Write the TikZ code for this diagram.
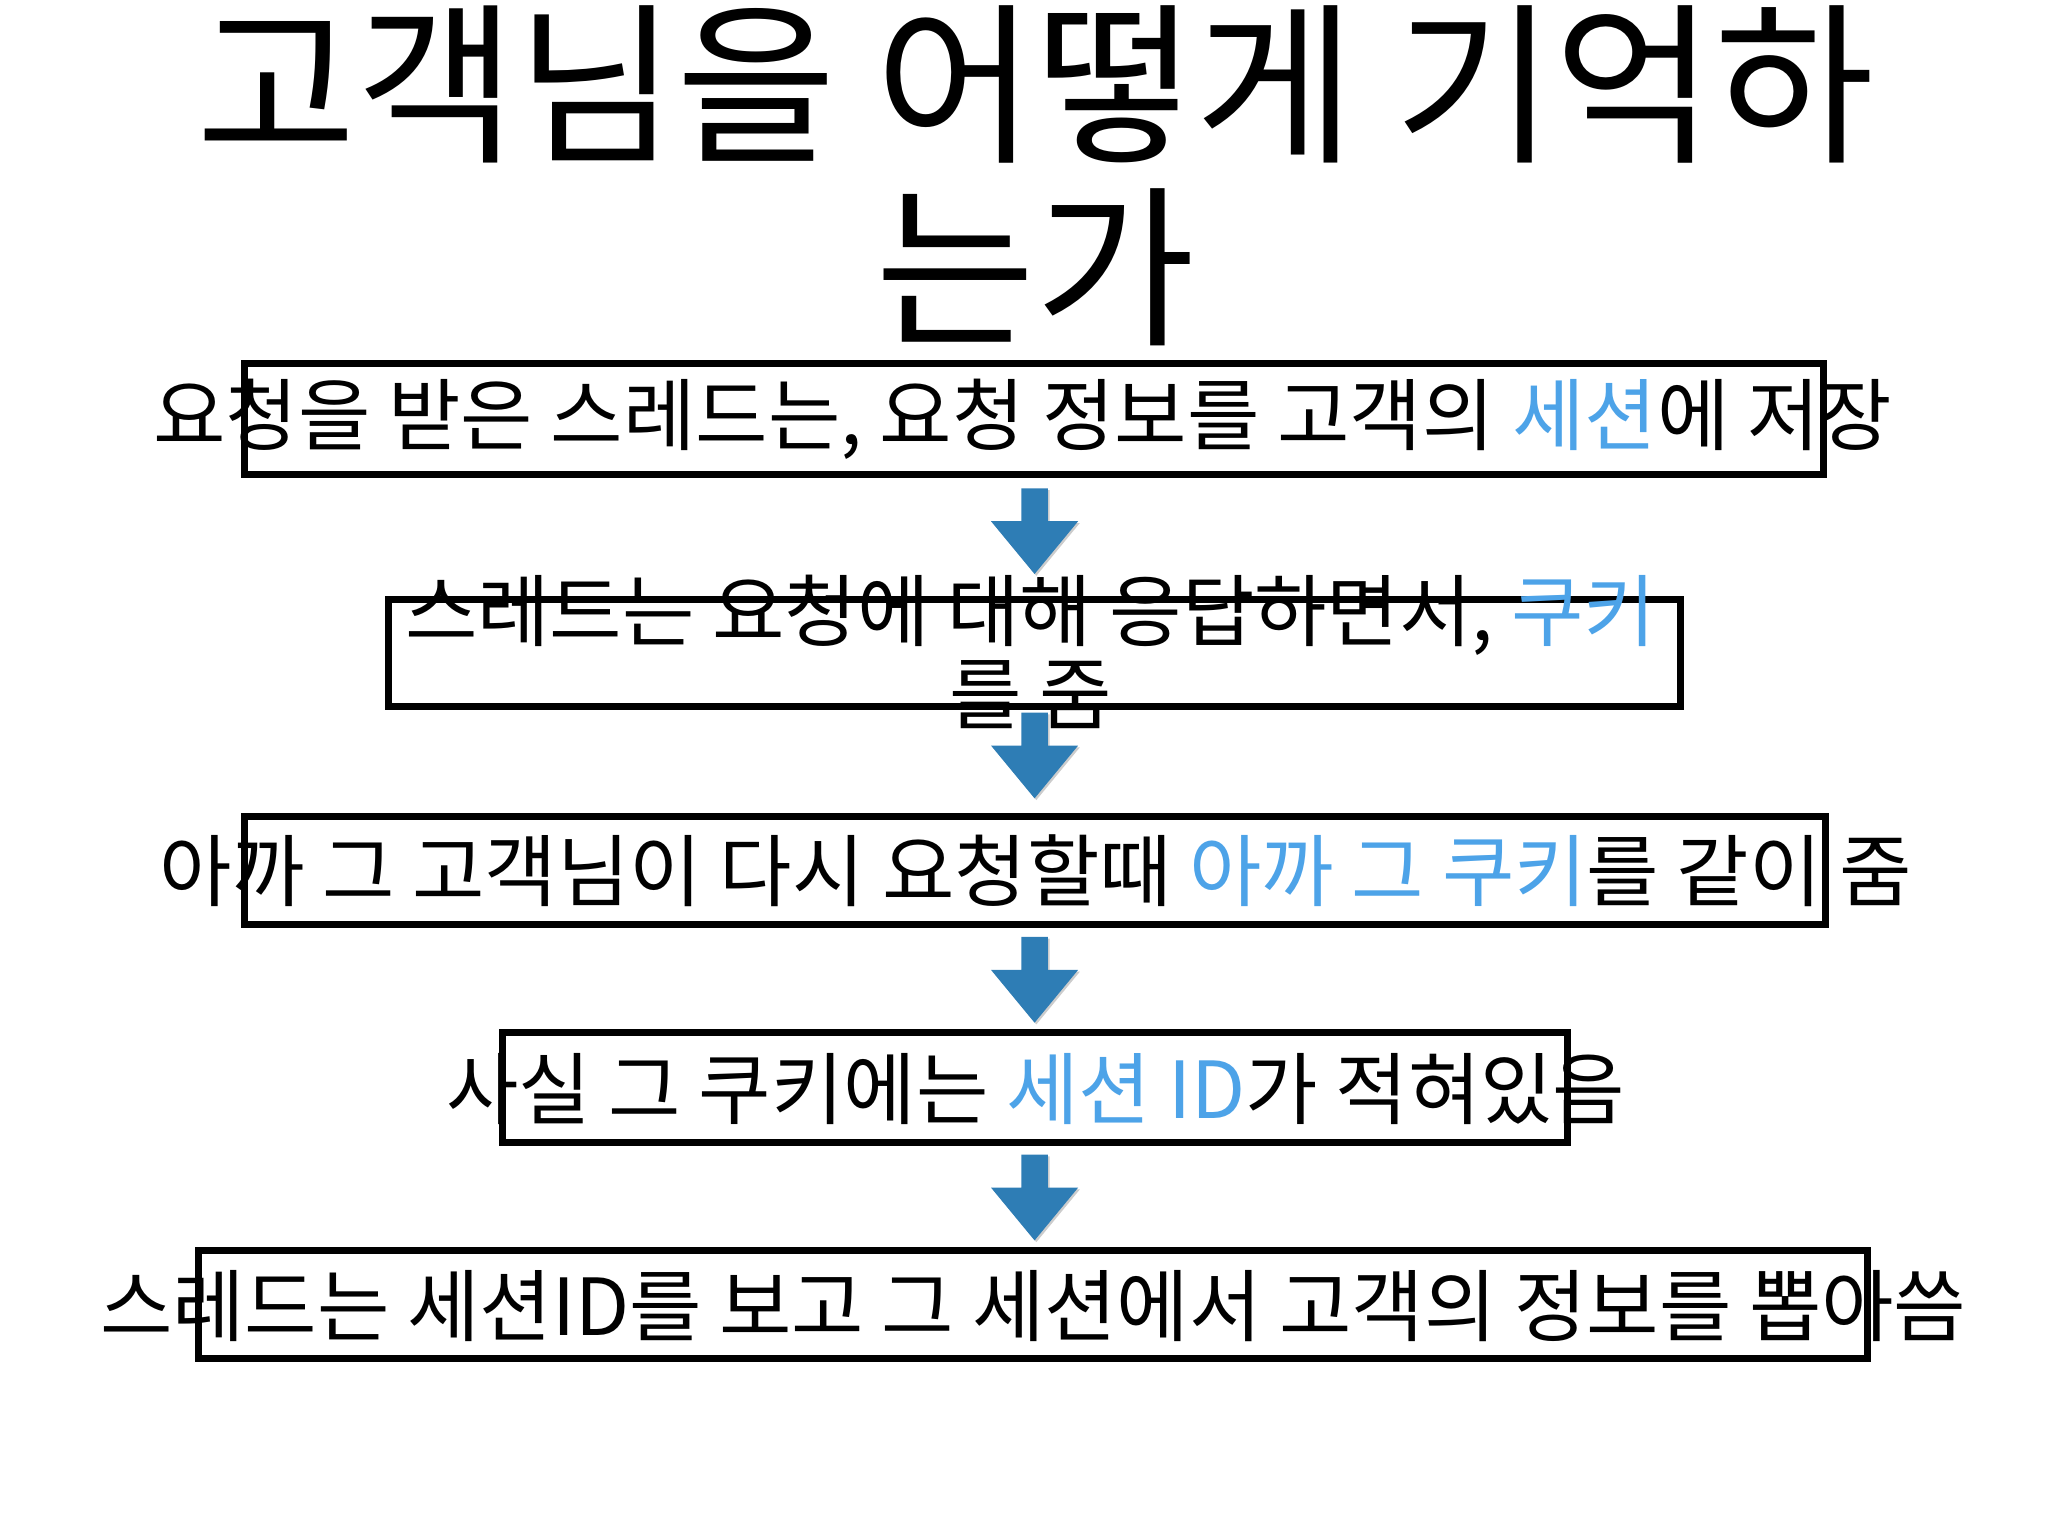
\documentclass[tikz,border=0pt]{standalone}
\usepackage{fontspec}
\setmainfont{Noto Sans CJK KR}
\usetikzlibrary{shadows}
\definecolor{kblue}{HTML}{4DA3E8}
\definecolor{abl}{HTML}{2E7DB5}
\tikzset{
 box/.style={draw=black,line width=2pt,inner sep=0pt},
 txt/.style={font=\fontsize{22.4}{25}\selectfont,inner sep=0pt,align=center},
 arr/.style={fill=abl,draw=none,drop shadow={shadow xshift=0.5pt,shadow yshift=-0.5pt,opacity=0.4}}
}
\begin{document}
\begin{tikzpicture}[x=0.013196cm,y=-0.013196cm]
\useasboundingbox (0,0) rectangle (1552,1164);
\node[inner sep=0pt,align=center,font=\fontsize{49.5}{52}\selectfont] (title) at (785,133) {고객님을 어떻게 기억하\\는가};
\node[box,minimum width=1196*0.013196cm,minimum height=84*0.013196cm] (b1) at (783.5,317.5) {};
\node[box,minimum width=979*0.013196cm,minimum height=81*0.013196cm] (b2) at (784,495) {};
\node[box,minimum width=1198*0.013196cm,minimum height=82*0.013196cm] (b3) at (784.5,659.5) {};
\node[box,minimum width=807*0.013196cm,minimum height=83*0.013196cm] (b4) at (784,824) {};
\node[box,minimum width=1265*0.013196cm,minimum height=82*0.013196cm] (b5) at (783,988.5) {};
\node[txt] (t1) at (775,318) {요청을 받은 스레드는, 요청 정보를 고객의 \textcolor{kblue}{세션}에 저장};
\node[txt,font=\fontsize{22.4}{23.5}\selectfont] (t2) at (781,494) {스레드는 요청에 대해 응답하면서, \textcolor{kblue}{쿠키}\\를 줌};
\node[txt] (t3) at (785,660) {아까 그 고객님이 다시 요청할때 \textcolor{kblue}{아까 그 쿠키}를 같이 줌};
\node[txt] (t4) at (785,825) {사실 그 쿠키에는 \textcolor{kblue}{세션 ID}가 적혀있음};
\node[txt] (t5) at (783,990) {스레드는 세션ID를 보고 그 세션에서 고객의 정보를 뽑아씀};
\foreach \y in {370,540,710,875}{
 \fill[arr] (774,\y) -- (794,\y) -- (794,\y+25) -- (817,\y+25) -- (784,\y+65) -- (751,\y+25) -- (774,\y+25) -- cycle;
}
\end{tikzpicture}
\end{document}
